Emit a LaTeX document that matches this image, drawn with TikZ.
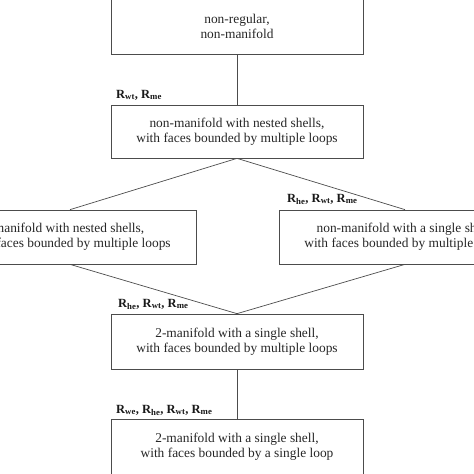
\documentclass[tikz,border=0pt]{standalone}
\usepackage{fontspec}
\setmainfont{Liberation Serif}
\usetikzlibrary{calc}

\tikzset{
  box/.style={draw=black!70, line width=0.7pt, minimum width=252pt, minimum height=54pt,
    inner sep=0pt, align=center, text=black!85, font=\fontsize{13.4}{15}\selectfont},
  link/.style={draw=black!70, line width=0.7pt},
  rule/.style={anchor=west, inner sep=0pt, text=black!90, font=\fontsize{12.5}{14}\selectfont\bfseries}
}

\begin{document}
\begin{tikzpicture}[x=1pt,y=-1pt]
  \useasboundingbox (0,0) rectangle (474,474);
  % boxes
  \node[box, minimum height=56pt] (nonreg) at (237,26) {non-regular,\\non-manifold};
  \node[box, minimum height=53pt] (nested) at (237,131.5) {non-manifold with nested shells,\\with faces bounded by multiple loops};
  \node[box, align=left] (nestedtwo) at (70,237) {non-manifold with nested shells,\\with faces bounded by multiple loops};
  \node[box] (single) at (405,237) {non-manifold with a single shell,\\with faces bounded by multiple loops};
  \node[box, minimum height=55pt] (twomulti) at (237,341.5) {2-manifold with a single shell,\\with faces bounded by multiple loops};
  \node[box, minimum height=56pt] (twosingle) at (237,447) {2-manifold with a single shell,\\with faces bounded by a single loop};
  % connectors
  \draw[link] (nonreg.south) -- (nested.north);
  \draw[link] (nested.south) -- (nestedtwo.north);
  \draw[link] (nested.south) -- (single.north);
  \draw[link] (nestedtwo.south) -- (twomulti.north);
  \draw[link] (single.south) -- (twomulti.north);
  \draw[link] (twomulti.south) -- (twosingle.north);
  % rule labels
  \node[rule] (ra) at (116,95) {R\textsubscript{wt}, R\textsubscript{me}};
  \node[rule] (rb) at (287,199) {R\textsubscript{he}, R\textsubscript{wt}, R\textsubscript{me}};
  \node[rule] (rc) at (118,304) {R\textsubscript{he}, R\textsubscript{wt}, R\textsubscript{me}};
  \node[rule] (rd) at (116,410) {R\textsubscript{we}, R\textsubscript{he}, R\textsubscript{wt}, R\textsubscript{me}};
\end{tikzpicture}
\end{document}
